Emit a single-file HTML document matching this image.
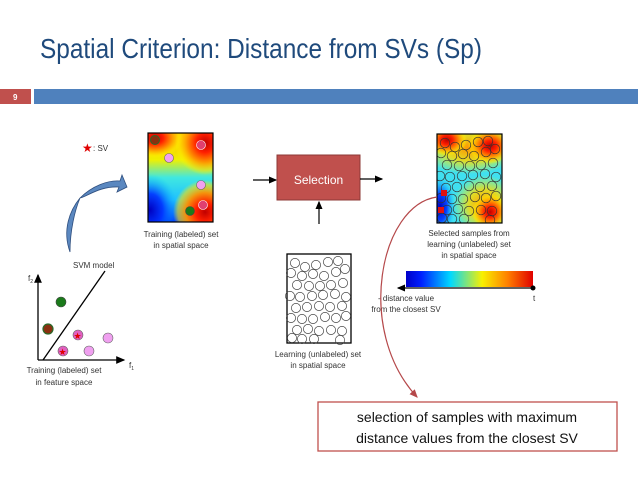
<!DOCTYPE html>
<html><head><meta charset="utf-8">
<style>
html,body{margin:0;padding:0;background:#fff;}
body{width:638px;height:478px;overflow:hidden;position:relative;font-family:"Liberation Sans",sans-serif;}
svg text{font-family:"Liberation Sans",sans-serif;}
</style></head>
<body>
<svg width="638" height="478" viewBox="0 0 638 478" xmlns="http://www.w3.org/2000/svg">
<defs>
  <linearGradient id="jet" x1="0" x2="1" y1="0" y2="0">
    <stop offset="0" stop-color="#0000c8"/><stop offset="0.12" stop-color="#0020ff"/>
    <stop offset="0.35" stop-color="#00d8ff"/><stop offset="0.6" stop-color="#f8f000"/>
    <stop offset="0.8" stop-color="#ff8000"/><stop offset="1" stop-color="#e00000"/>
  </linearGradient>
  <linearGradient id="baseL" x1="0" y1="0" x2="0" y2="1">
    <stop offset="0" stop-color="#ffb000"/><stop offset="0.3" stop-color="#f0f000"/><stop offset="0.5" stop-color="#40e8e0"/><stop offset="0.75" stop-color="#20c0ff"/><stop offset="1" stop-color="#0030ff"/>
  </linearGradient>
  <radialGradient id="hot">
    <stop offset="0" stop-color="#c00000"/><stop offset="0.3" stop-color="#ff2000"/><stop offset="0.6" stop-color="#ff9000" stop-opacity="0.95"/><stop offset="0.85" stop-color="#ffe000" stop-opacity="0.6"/><stop offset="1" stop-color="#ffff00" stop-opacity="0"/>
  </radialGradient>
  <radialGradient id="warm">
    <stop offset="0" stop-color="#ff9000"/><stop offset="0.5" stop-color="#ffd800" stop-opacity="0.85"/><stop offset="1" stop-color="#ffff00" stop-opacity="0"/>
  </radialGradient>
  <radialGradient id="cold">
    <stop offset="0" stop-color="#0000c0"/><stop offset="0.45" stop-color="#0030ff" stop-opacity="0.9"/><stop offset="1" stop-color="#00c0ff" stop-opacity="0"/>
  </radialGradient>
  <clipPath id="cl"><rect x="148" y="133" width="65" height="89"/></clipPath>
  <clipPath id="cr"><rect x="437" y="134" width="65" height="89"/></clipPath>
  <marker id="ah" markerWidth="8" markerHeight="8" refX="6" refY="4" orient="auto"><path d="M0,1 L7,4 L0,7 Z" fill="#000"/></marker>
  <marker id="ahr" markerWidth="8" markerHeight="8" refX="6" refY="4" orient="auto"><path d="M0,1 L7,4 L0,7 Z" fill="#b5484a"/></marker>
</defs>

<text x="40" y="58" font-size="28" fill="#1f4a7c" textLength="442" lengthAdjust="spacingAndGlyphs">Spatial Criterion: Distance from SVs (Sp)</text>
<rect x="0" y="89" width="31" height="15" fill="#c0504d"/>
<text x="13" y="100" font-size="8" font-weight="bold" fill="#fff">9</text>
<rect x="34" y="89" width="604" height="15" fill="#4f81bd"/>

<text x="82" y="152" font-size="12" fill="#e00000">★</text>
<text x="93" y="151" font-size="8" fill="#333">: SV</text>

<path d="M70,252 C62,230 70,210 80,198 C92,186 108,180 120,181 L122,175 L127,187 L117,192 L119,187 C100,186 88,196 80,198 C75,210 70,230 70,252 Z" fill="#5b88c0" stroke="#2f4f7f" stroke-width="0.8"/>
<text x="73" y="268" font-size="8" fill="#333">SVM model</text>

<g>
<line x1="38" y1="360" x2="38" y2="275" stroke="#000" stroke-width="1.3" marker-end="url(#ah)"/>
<line x1="38" y1="360" x2="124" y2="360" stroke="#000" stroke-width="1.3" marker-end="url(#ah)"/>
<line x1="43" y1="360" x2="105" y2="271" stroke="#000" stroke-width="1.3"/>
<text x="28" y="281" font-size="8" fill="#333">f<tspan font-size="5" dy="2">2</tspan></text>
<text x="129" y="368" font-size="8" fill="#333">f<tspan font-size="5" dy="2">1</tspan></text>
<circle cx="61" cy="302" r="5" fill="#1a7a1a" stroke="#444" stroke-width="0.6"/>
<circle cx="48" cy="329" r="5" fill="#8a3010" stroke="#2a6a2a" stroke-width="1.2"/>
<circle cx="78" cy="335" r="5" fill="#e060c0" stroke="#666" stroke-width="0.6"/>
<text x="73.5" y="339" font-size="9" fill="#e00000">★</text>
<circle cx="108" cy="338" r="5" fill="#f0a0f0" stroke="#666" stroke-width="0.6"/>
<circle cx="63" cy="351" r="5" fill="#e060c0" stroke="#666" stroke-width="0.6"/>
<text x="58.5" y="355" font-size="9" fill="#e00000">★</text>
<circle cx="89" cy="351" r="5" fill="#f0a0f0" stroke="#666" stroke-width="0.6"/>
</g>
<text font-size="8" fill="#333" text-anchor="middle"><tspan x="64" y="373">Training (labeled) set</tspan><tspan x="64" y="385">in feature space</tspan></text>

<g clip-path="url(#cl)">
<rect x="148" y="133" width="65" height="89" fill="url(#baseL)"/>
<ellipse cx="150" cy="210" rx="28" ry="36" fill="url(#cold)"/>
<ellipse cx="155" cy="138" rx="28" ry="20" fill="url(#hot)"/>
<ellipse cx="205" cy="143" rx="30" ry="32" fill="url(#hot)"/>
<ellipse cx="205" cy="212" rx="32" ry="32" fill="url(#hot)"/>
<circle cx="155" cy="140" r="4.5" fill="#8a3010" stroke="#2a6a2a" stroke-width="1"/>
<circle cx="169" cy="158" r="4.5" fill="#f0a0f0" stroke="#666" stroke-width="0.6"/>
<circle cx="201" cy="145" r="4.5" fill="#e04070" stroke="#fff" stroke-width="0.6"/>
<circle cx="201" cy="185" r="4.5" fill="#f0a0f0" stroke="#666" stroke-width="0.6"/>
<circle cx="190" cy="211" r="4.5" fill="#1a7a1a" stroke="#444" stroke-width="0.6"/>
<circle cx="203" cy="205" r="4.5" fill="#e04070" stroke="#fff" stroke-width="0.6"/>
</g>
<rect x="148" y="133" width="65" height="89" fill="none" stroke="#000" stroke-width="1.2"/>
<text font-size="8" fill="#333" text-anchor="middle"><tspan x="181" y="237">Training (labeled) set</tspan><tspan x="181" y="248">in spatial space</tspan></text>

<line x1="253" y1="180" x2="276" y2="180" stroke="#000" stroke-width="1.2" marker-end="url(#ah)"/>
<rect x="277" y="155" width="83" height="45" fill="#c0504d" stroke="#8c3836" stroke-width="1"/>
<text x="318.5" y="184" font-size="12" fill="#fff" text-anchor="middle">Selection</text>
<line x1="360" y1="179" x2="382" y2="179" stroke="#000" stroke-width="1.2" marker-end="url(#ah)"/>
<line x1="319" y1="224" x2="319" y2="202" stroke="#000" stroke-width="1.2" marker-end="url(#ah)"/>

<rect x="287" y="254" width="64" height="89" fill="#fff" stroke="#000" stroke-width="1.3"/>
<g id="unl" fill="none" stroke="#444" stroke-width="0.7"></g>
<text font-size="8" fill="#333" text-anchor="middle"><tspan x="318" y="357">Learning (unlabeled) set</tspan><tspan x="318" y="368">in spatial space</tspan></text>

<g clip-path="url(#cr)">
<rect x="437" y="134" width="65" height="89" fill="#40e0f0"/>
<ellipse cx="470" cy="148" rx="50" ry="26" fill="url(#warm)"/>
<ellipse cx="485" cy="205" rx="32" ry="30" fill="url(#warm)"/>
<ellipse cx="440" cy="207" rx="15" ry="30" fill="url(#cold)"/>
<ellipse cx="447" cy="140" rx="20" ry="16" fill="url(#hot)"/>
<ellipse cx="490" cy="146" rx="22" ry="18" fill="url(#hot)"/>
<ellipse cx="490" cy="212" rx="18" ry="18" fill="url(#hot)"/>
<g id="unl2" fill="none" stroke="#333" stroke-width="0.7"></g>
<rect x="441" y="190" width="6" height="6" fill="#e01010"/>
<rect x="438" y="207" width="6" height="6" fill="#e01010"/>
</g>
<rect x="437" y="134" width="65" height="89" fill="none" stroke="#000" stroke-width="1.2"/>
<text font-size="8" fill="#333" text-anchor="middle"><tspan x="469" y="236">Selected samples from</tspan><tspan x="469" y="247">learning (unlabeled) set</tspan><tspan x="469" y="258">in spatial space</tspan></text>

<rect x="406" y="271" width="127" height="16" fill="url(#jet)"/>
<line x1="533" y1="288" x2="398" y2="288" stroke="#000" stroke-width="1.2" marker-end="url(#ah)"/>
<circle cx="533" cy="288" r="2.5" fill="#000"/>
<text font-size="8" fill="#333" text-anchor="middle"><tspan x="406" y="301">- distance value</tspan><tspan x="406" y="312">from the closest SV</tspan></text>
<text x="533" y="301" font-size="8" fill="#333">t</text>

<path d="M437,197 C380,205 355,330 417,397" fill="none" stroke="#b5484a" stroke-width="1.2" marker-end="url(#ahr)"/>
<rect x="318" y="402" width="299" height="49" fill="#fff" stroke="#c0504d" stroke-width="1.3"/>
<text font-size="14" fill="#111" text-anchor="middle"><tspan x="467" y="422">selection of samples with maximum</tspan><tspan x="467" y="443">distance values from the closest SV</tspan></text>
</svg>
<script>
const pts=[[295,263],[305,267],[316,265],[328,262],[338,261],[291,273],[302,276],[313,274],[324,276],[336,272],[345,269],[297,285],[309,286],[320,286],[331,285],[343,283],[290,296],[300,297],[312,296],[323,295],[335,294],[346,297],[296,308],[307,307],[319,306],[330,307],[342,306],[291,318],[302,319],[313,319],[325,317],[336,318],[346,316],[297,330],[308,329],[319,331],[331,330],[342,331],[292,338],[302,339],[314,339],[340,340]];
const g=document.getElementById('unl');
pts.forEach(p=>{const c=document.createElementNS('http://www.w3.org/2000/svg','circle');c.setAttribute('cx',p[0]);c.setAttribute('cy',p[1]);c.setAttribute('r',4.6);


g.appendChild(c);});
const g2=document.getElementById('unl2');
pts.forEach(p=>{const c=document.createElementNS('http://www.w3.org/2000/svg','circle');c.setAttribute('cx',p[0]+150);c.setAttribute('cy',p[1]-120);c.setAttribute('r',4.8);


g2.appendChild(c);});
</script>
</body></html>
